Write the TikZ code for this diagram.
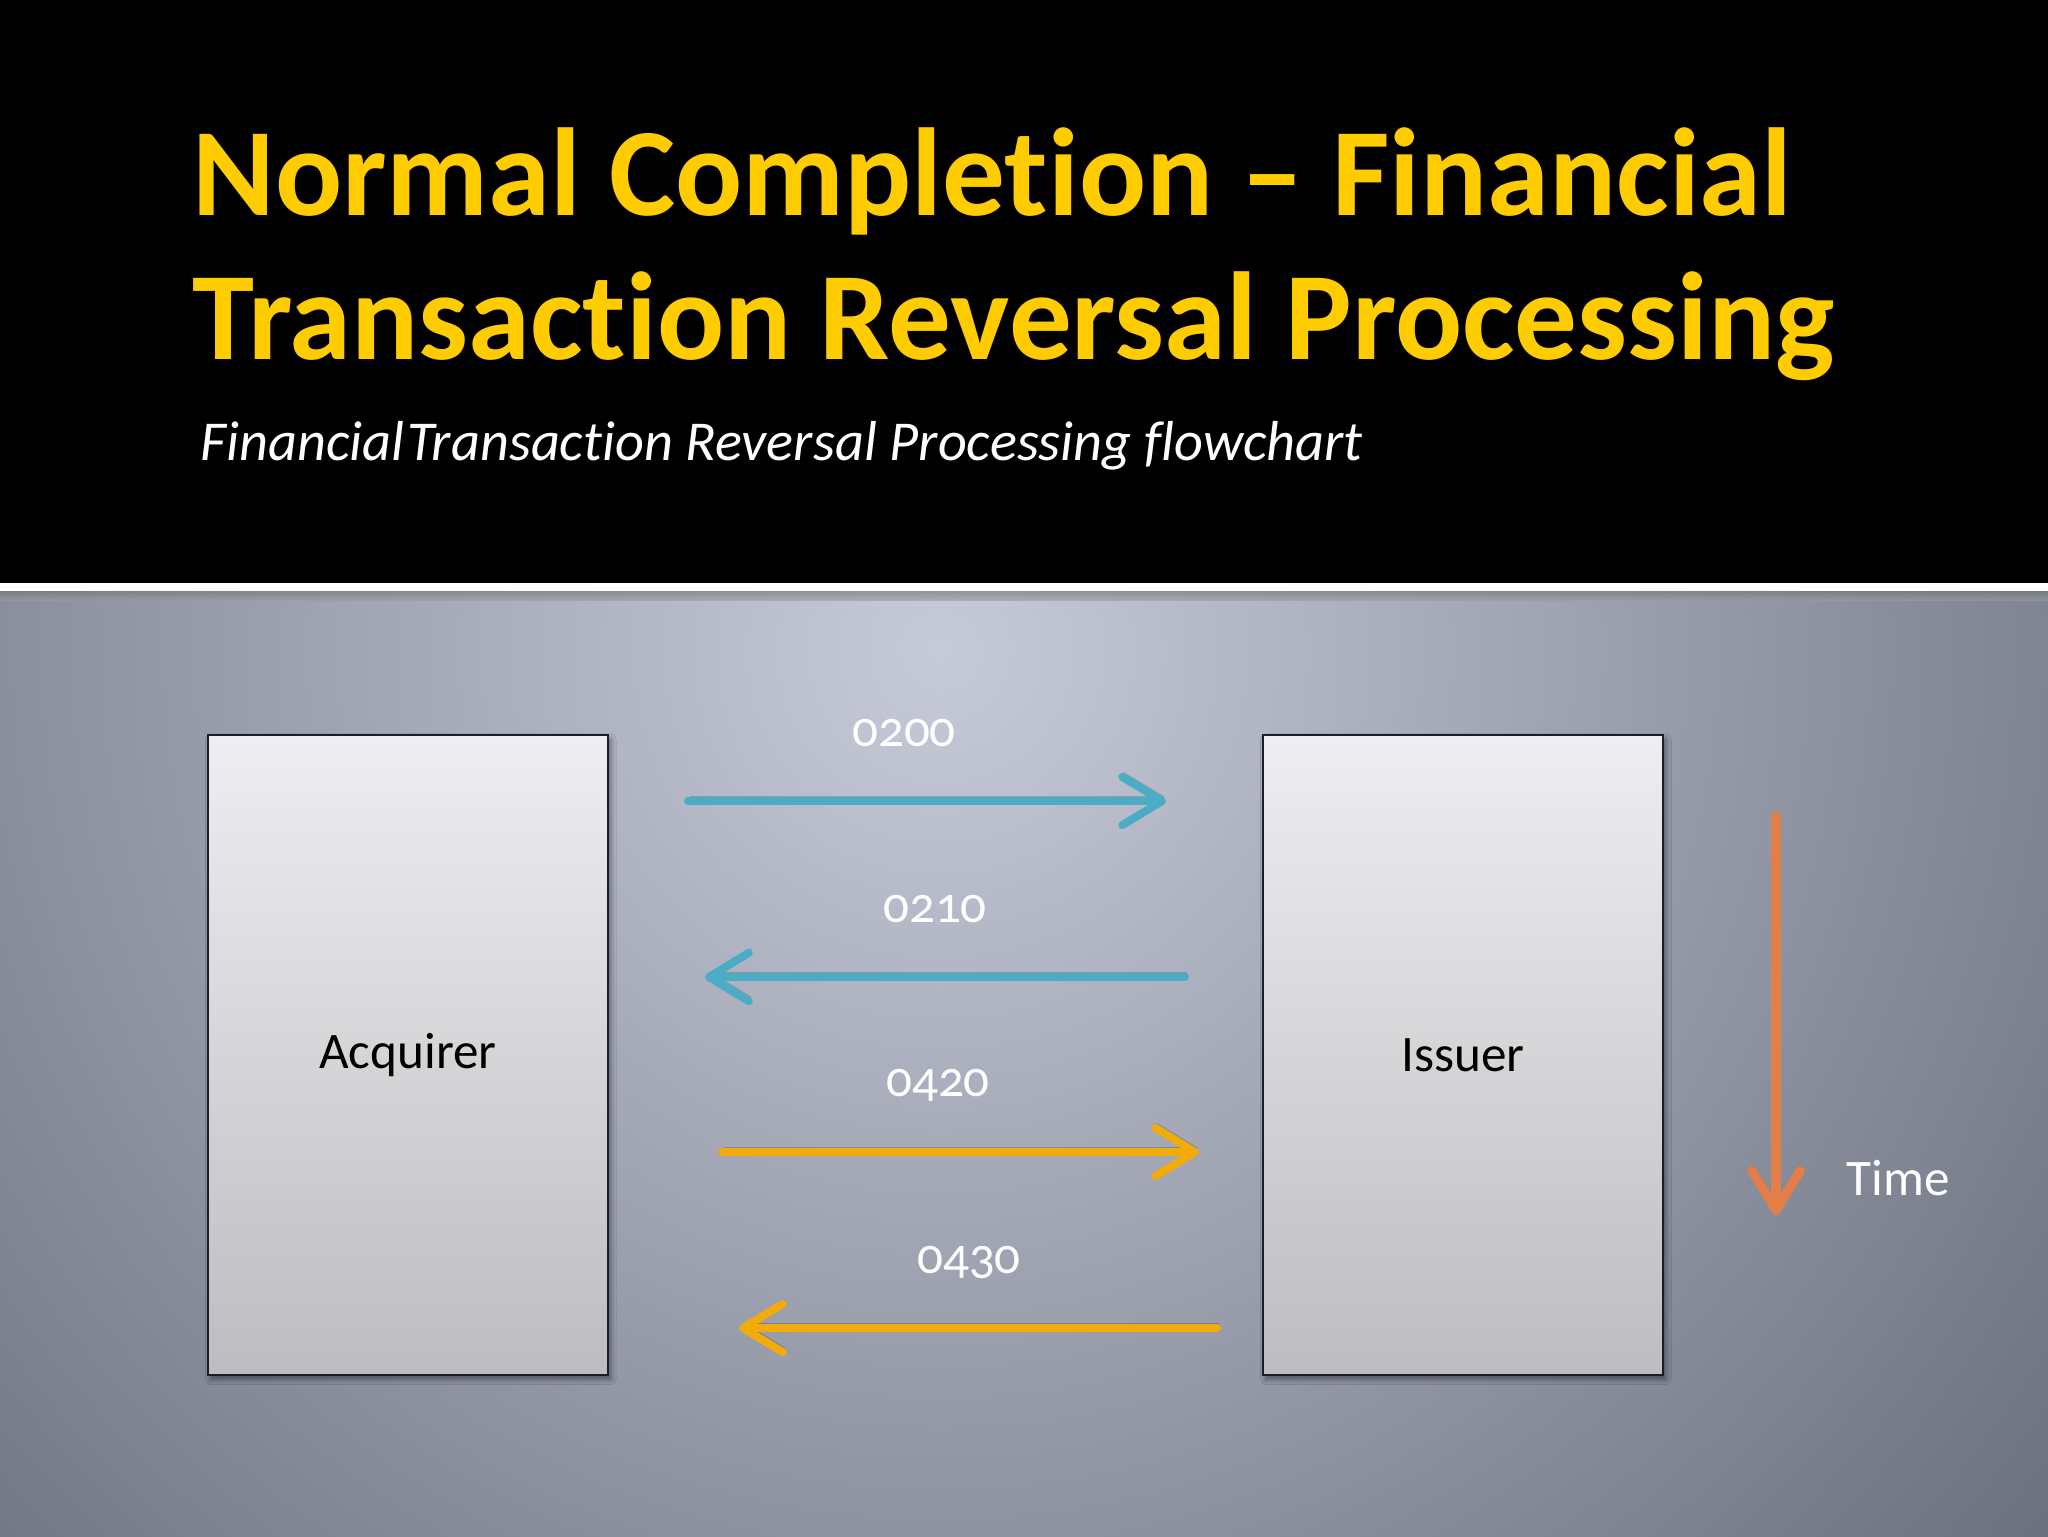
\documentclass[tikz,border=0pt]{standalone}
\usepackage{fontspec}
\setmainfont{Carlito}[Numbers=OldStyle, Ligatures=NoCommon]
\usepackage{tikz}
\usetikzlibrary{arrows.meta, shadows.blur, positioning}

\definecolor{titleyellow}{RGB}{255,204,0}
\definecolor{bglight}{RGB}{198,202,217}
\definecolor{bgdark}{RGB}{80,85,100}
\definecolor{boxtop}{RGB}{238,238,240}
\definecolor{boxbottom}{RGB}{189,189,191}
\definecolor{boxline}{RGB}{28,30,38}
\definecolor{msgblue}{RGB}{75,172,198}
\definecolor{msggold}{RGB}{242,172,10}
\definecolor{timeorange}{RGB}{228,126,72}

\tikzset{
  partybox/.style={draw=boxline, line width=0.6pt, top color=boxtop, bottom color=boxbottom,
    minimum width=140.6pt, minimum height=225pt, inner sep=0pt,
    font=\fontsize{18}{22}\selectfont,
    blur shadow={shadow xshift=1pt, shadow yshift=-1.5pt, shadow blur steps=6, shadow opacity=45}},
  msglabel/.style={text=white, inner sep=0.75pt, font=\fontsize{18}{22}\selectfont},
  msgline/.style={line width=2.8pt, line cap=round,
    -{Straight Barb[length=14pt, width=17pt, round]},
    preaction={draw=black, opacity=0.18, transform canvas={shift={(2,4)}}}},
  bluemsg/.style={msgline, draw=msgblue},
  goldmsg/.style={msgline, draw=msggold},
}

\begin{document}
\begin{tikzpicture}[x=0.3516pt,y=0.3516pt,yscale=-1,xscale=1]
\useasboundingbox (0,0) rectangle (2048,1536);

%Shape: Header band
\fill [black] (0,0) rectangle (2048,583);
%Shape: Slide background
\begin{scope}
\clip (0,590) rectangle (2048,1536);
\shade [inner color=bglight, outer color=bgdark] (940,650) circle (1850);
\end{scope}
%Shape: Separator
\fill [white] (0,583) rectangle (2048,591);
\shade [top color=black!55, bottom color=bglight!60!bgdark, opacity=0.6] (0,591) rectangle (2048,600);

% Text Node
\node (title) [anchor=base west, inner sep=0pt, align=left, text=titleyellow,
  font=\fontsize{44}{50.5}\bfseries\selectfont] at (192,359)
  {Normal Completion -- Financial\\Transaction Reversal Processing};
% Text Node
\node (subtitle) [anchor=base west, inner sep=0pt, text=white,
  font=\fontsize{19.8}{24}\itshape\selectfont] at (200,460)
  {Financial\hspace{0.05em}Transaction Reversal Processing flowchart};

%Shape: Rectangle
\node (acquirer) [partybox] at (408,1055) {Acquirer};
%Shape: Rectangle
\node (issuer) [partybox] at (1463,1055) {Issuer};

% Text Node
\node (l0200) [msglabel] at (904,733) {0200};
\node (l0210) [msglabel] at (935,909) {0210};
\node (l0420) [msglabel] at (938,1085) {0420};
\node (l0430) [msglabel] at (969,1262) {0430};

\coordinate (m1a) at (688,801);
\coordinate (m1b) at (1166,801);
\coordinate (m2a) at (1185,977);
\coordinate (m2b) at (705,977);
\coordinate (m3a) at (722,1152);
\coordinate (m3b) at (1199,1152);
\coordinate (m4a) at (1217,1328);
\coordinate (m4b) at (739,1328);

%Straight Lines
\draw [bluemsg] (m1a) -- (m1b);
\draw [bluemsg] (m2a) -- (m2b);
\draw [goldmsg] (m3a) -- (m3b);
\draw [goldmsg] (m4a) -- (m4b);

%Straight Lines
\coordinate (t1) at (1776,816);
\coordinate (t2) at (1776,1215);
\draw [msgline, draw=timeorange, line width=3.2pt] (t1) -- (t2);
% Text Node
\node (time) [msglabel] at (1898,1178) {Time};

\end{tikzpicture}
\end{document}
